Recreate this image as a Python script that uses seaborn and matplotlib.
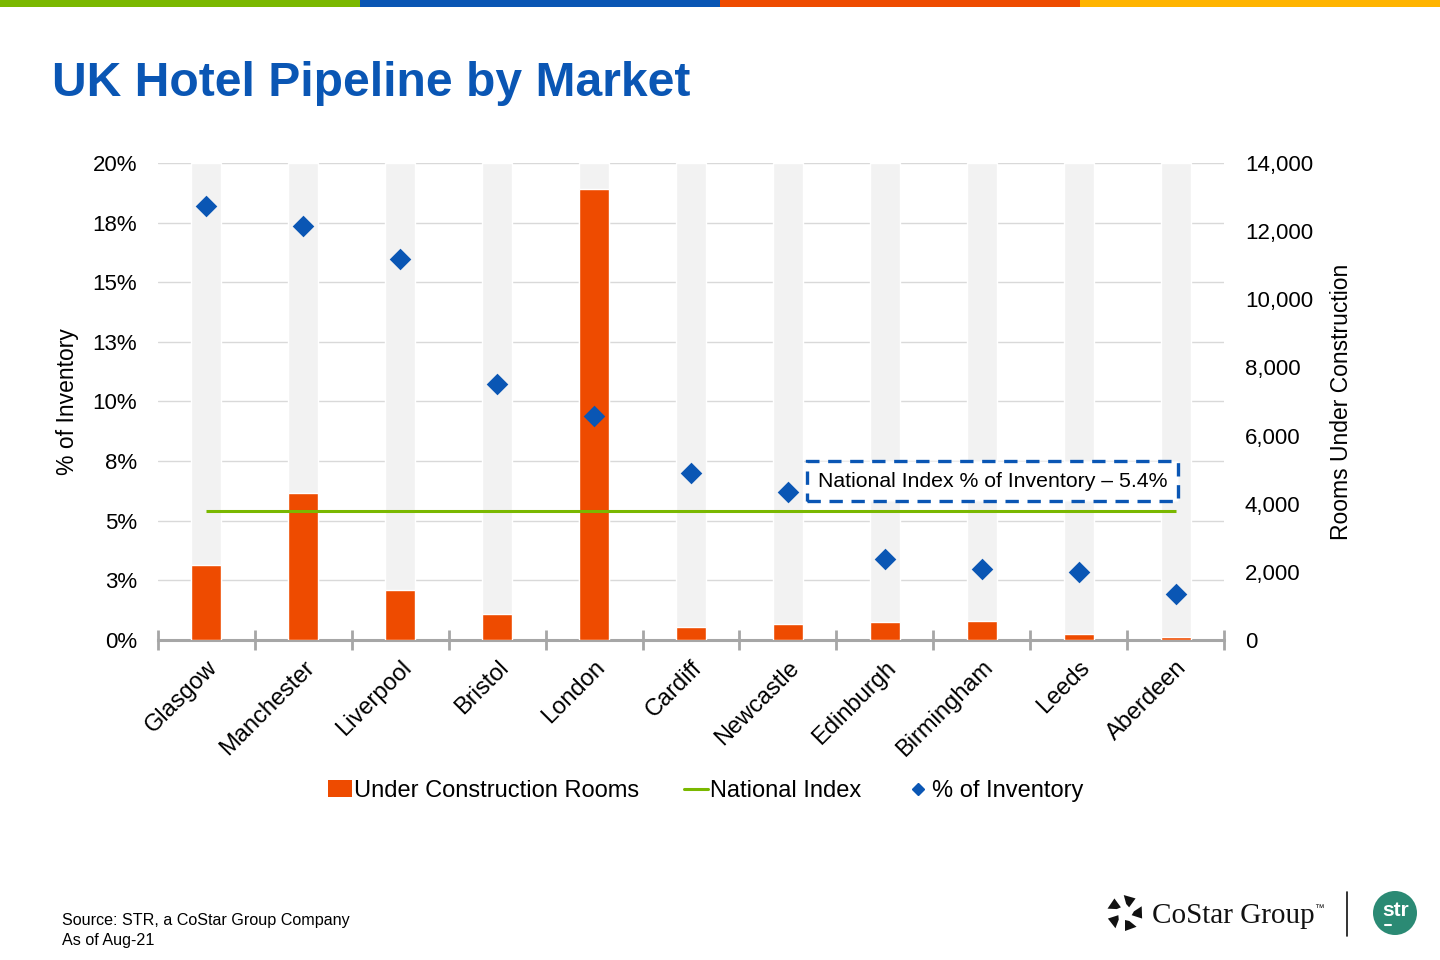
import math
import numpy as np
import pandas as pd
import matplotlib
matplotlib.use("Agg")
import matplotlib.pyplot as plt
import matplotlib.ticker as mticker
from matplotlib.lines import Line2D
from matplotlib.patches import Patch, Rectangle, Ellipse, Polygon
import seaborn as sns

# ---------------- data ----------------
markets = ["Glasgow", "Manchester", "Liverpool", "Bristol", "London", "Cardiff",
           "Newcastle", "Edinburgh", "Birmingham", "Leeds", "Aberdeen"]
rooms_under_construction = [2200, 4310, 1470, 760, 13240, 380, 470, 530, 560, 180, 90]
pct_of_inventory = [0.182, 0.1735, 0.1597, 0.1073, 0.0939, 0.070, 0.062, 0.034, 0.0298, 0.0285, 0.0193]
national_index = 0.054
pct_ticks = [0.0, 0.025, 0.05, 0.075, 0.10, 0.125, 0.15, 0.175, 0.20]
room_ticks = [0, 2000, 4000, 6000, 8000, 10000, 12000, 14000]

title = "UK Hotel Pipeline by Market"
source_lines = ["Source: STR, a CoStar Group Company", "As of Aug-21"]

# ---------------- style ----------------
BLUE = "#0A56B4"
ORANGE = "#EE4B00"
GREEN = "#7AB800"
YELLOW = "#FFB400"
LGRAY = "#F2F2F2"
AXGRAY = "#A6A6A6"
GRID = "#D9D9D9"

sns.set_theme(style="white")
plt.rcParams["font.family"] = ["Liberation Sans", "DejaVu Sans"]

W, H = 1440, 960
fig = plt.figure(figsize=(14.4, 9.6), dpi=100)

def fx(px):
    return px / W

def fy(py):
    return 1 - py / H

# top colour strip
strip_cols = [GREEN, BLUE, ORANGE, YELLOW]
for i, c in enumerate(strip_cols):
    fig.patches.append(Rectangle((i * 0.25, fy(7)), 0.25, 7 / H, transform=fig.transFigure,
                                 facecolor=c, edgecolor="none"))

fig.text(fx(52), fy(83), title, fontsize=34.6, fontweight="bold", color=BLUE,
         ha="left", va="center")

# ---------------- axes ----------------
left, right, top, bottom = 158, 1224, 163, 640
ax = fig.add_axes([fx(left), fy(bottom), fx(right - left), (bottom - top) / H])
n = len(markets)
df = pd.DataFrame({"market": markets, "rooms": rooms_under_construction,
                   "pct": pct_of_inventory})
ymax_pct = pct_ticks[-1]
ymax_rooms = room_ticks[-1]

# background full-height bars (percent axis)
sns.barplot(x=df["market"], y=np.full(n, ymax_pct), ax=ax, color=LGRAY,
            saturation=1, width=0.31, zorder=1)
ax.set_ylim(0, ymax_pct)
ax.set_yticks(pct_ticks)
ax.yaxis.set_major_formatter(mticker.FuncFormatter(
    lambda v, p: f"{int(math.floor(v * 100 + 0.5))}%"))
ax.grid(axis="y", color=GRID, linewidth=1)
ax.set_axisbelow(True)
ax.set_ylabel("% of Inventory", fontsize=16.5, color="#000000", labelpad=10)
ax.tick_params(axis="y", length=0, labelsize=16, pad=15, colors="#000000")

# rooms bars
ax2 = ax.twinx()
sns.barplot(x=df["market"], y=df["rooms"], ax=ax2, color=ORANGE, saturation=1,
            width=0.31, zorder=2)
ax2.set_ylim(0, ymax_rooms)
ax2.set_yticks(room_ticks)
ax2.yaxis.set_major_formatter(mticker.FuncFormatter(lambda v, p: f"{int(v):,}"))
ax2.tick_params(axis="y", length=0, labelsize=16, pad=15, colors="#000000")
ax2.set_ylabel("Rooms Under Construction", fontsize=16.5, color="#000000",
               rotation=90, labelpad=12)
ax2.yaxis.set_label_position("right")

# percent markers and national index line
ax3 = ax.twinx()
ax3.hlines(national_index, 0, n - 1, color=GREEN, linewidth=2.2, zorder=3)
sns.stripplot(x=df["market"], y=df["pct"], ax=ax3, marker="D", size=11,
              color=BLUE, jitter=False, zorder=5, linewidth=0)
ax3.set_ylim(0, ymax_pct)
ax3.set_yticks([])
ax3.set_ylabel("")

for a in (ax, ax2, ax3):
    for s in ("left", "right", "top", "bottom"):
        a.spines[s].set_visible(False)
    a.set_xlabel("")
ax.spines["bottom"].set_visible(True)
ax.spines["bottom"].set_color(AXGRAY)
ax.spines["bottom"].set_linewidth(2.2)
ax.spines["bottom"].set_zorder(6)

ax.set_xlim(-0.5, n - 0.5)
ax.set_xticks(range(n))
ax.set_xticklabels(markets, rotation=45, ha="right", rotation_mode="anchor",
                   fontsize=17, color="#000000")
ax.set_xticks(np.arange(-0.5, n, 1.0), minor=True)
ax.tick_params(axis="x", which="major", direction="in", length=4, width=1.5,
               color=AXGRAY, pad=12, bottom=True)
ax.tick_params(axis="x", which="minor", direction="inout", length=14, width=2,
               color=AXGRAY, bottom=True)
ax2.tick_params(axis="x", bottom=False, labelbottom=False)
ax3.tick_params(axis="x", bottom=False, labelbottom=False)

# annotation box
fig.text(fx(818), fy(481), f"National Index % of Inventory \u2013 {national_index * 100:.1f}%",
         fontsize=15.3, color="#000000", ha="left", va="center",
         bbox=dict(boxstyle="square,pad=0.5", facecolor="white", edgecolor=BLUE,
                   linestyle=(0, (4, 2.6)), linewidth=2.4))

# legend
handles = [Patch(facecolor=ORANGE, edgecolor="none", label="Under Construction Rooms"),
           Line2D([0], [0], color=GREEN, linewidth=2.2, label="National Index"),
           Line2D([0], [0], color=BLUE, marker="D", linestyle="none", markersize=6,
                  label="% of Inventory")]
fig.legend(handles=handles, loc="center", bbox_to_anchor=(fx(706), fy(791)), ncol=3,
           frameon=False, fontsize=17, handlelength=1.0, handletextpad=0.1,
           columnspacing=1.9, labelcolor="#000000")

# source
fig.text(fx(62), fy(920), source_lines[0], fontsize=11.6, color="#000000", ha="left", va="center")
fig.text(fx(62), fy(941), source_lines[1], fontsize=11.6, color="#000000", ha="left", va="center")

# logos
cx, cy = 1125, 913
for k in range(5):
    ang = math.radians(90 + 72 * k + 36)
    ang2 = ang + math.radians(40)
    r1, r2 = 7, 18
    pts = [(cx + r1 * math.cos(ang), cy - r1 * math.sin(ang)),
           (cx + r2 * math.cos(ang), cy - r2 * math.sin(ang)),
           (cx + r2 * math.cos(ang2), cy - r2 * math.sin(ang2)),
           (cx + r1 * 1.3 * math.cos(ang2 - 0.2), cy - r1 * 1.3 * math.sin(ang2 - 0.2))]
    fig.patches.append(Polygon([(fx(x), fy(y)) for x, y in pts], closed=True,
                               transform=fig.transFigure, facecolor="#111111",
                               edgecolor="none"))
fig.text(fx(1152), fy(916), "CoStar Group", fontsize=21, family="Liberation Serif",
         color="#111111", ha="left", va="center")
fig.text(fx(1314), fy(908), "\u2122", fontsize=7, color="#111111", ha="left", va="center")
fig.add_artist(Line2D([fx(1347), fx(1347)], [fy(892), fy(936)], color="#111111",
                      linewidth=1.2, transform=fig.transFigure))
fig.patches.append(Ellipse((fx(1395), fy(913)), 44 / W, 44 / H, transform=fig.transFigure,
                           facecolor="#2B8A74", edgecolor="none"))
fig.text(fx(1396), fy(911), "str", fontsize=15, fontweight="bold", color="white",
         ha="center", va="center")
fig.add_artist(Line2D([fx(1385), fx(1391)], [fy(925), fy(925)], color="white",
                      linewidth=1.5, transform=fig.transFigure))

fig.savefig("out.png", dpi=100, facecolor="white")
